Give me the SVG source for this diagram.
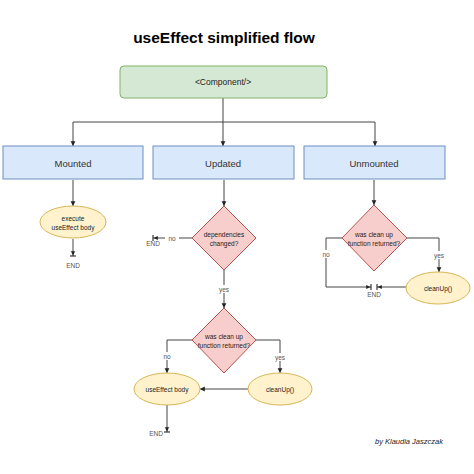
<svg xmlns="http://www.w3.org/2000/svg" width="474" height="474" viewBox="0 0 474 474">
<style>
text{font-family:"Liberation Sans",Arial,sans-serif;fill:#222;text-anchor:middle;dominant-baseline:central}
.title{font-size:15.5px;font-weight:bold;fill:#000}
.box{fill:#dae8fc;stroke:#6c8ebf;stroke-width:1}
.green{fill:#d5e8d4;stroke:#82b366;stroke-width:1}
.ell{fill:#fff2cc;stroke:#d6b656;stroke-width:1}
.dia{fill:#f8cecc;stroke:#b85450;stroke-width:1}
.lbl{font-size:9.5px;fill:#333}
.sm{font-size:6.5px;fill:#222}
.el{font-size:6.5px;fill:#555}
.line{fill:none;stroke:#444;stroke-width:1}
.arr{marker-end:url(#arrow)}
.end{marker-end:url(#endm)}
</style>
<defs>
<marker id="arrow" viewBox="0 0 10 10" refX="9" refY="5" markerWidth="6" markerHeight="6" markerUnits="userSpaceOnUse" orient="auto">
<path d="M1,1 L9,5 L1,9 Z" fill="#222"/>
</marker>
<marker id="endm" viewBox="0 0 10 10" refX="9" refY="5" markerWidth="6" markerHeight="6" markerUnits="userSpaceOnUse" orient="auto">
<path d="M1,1.5 L8,5 L1,8.5 Z" fill="#222"/>
<path d="M9,0 L9,10" stroke="#222" stroke-width="1.8"/>
</marker>
</defs>
<rect width="474" height="474" fill="#fff"/>
<text class="title" x="224" y="37">useEffect simplified flow</text>

<g id="connectors">
<path class="line" d="M223,98 V122"/>
<path class="line" d="M73,122 H375"/>
<path class="line arr" d="M73,122 V146"/>
<path class="line arr" d="M223,122 V146"/>
<path class="line arr" d="M375,122 V146"/>
<path class="line arr" d="M73,180 V206"/>
<path class="line end" d="M73,239 V256"/>
<path class="line arr" d="M224,180 V206"/>
<path class="line end" d="M192,238 H153"/>
<path class="line arr" d="M224,270 V308"/>
<path class="line arr" d="M192,340 H167 V373"/>
<path class="line arr" d="M256,340 H280 V373"/>
<path class="line arr" d="M248,389 H200"/>
<path class="line end" d="M167,405 V432"/>
<path class="line arr" d="M374,180 V205"/>
<path class="line end" d="M342,238 H326 V287 H371"/>
<path class="line arr" d="M407,238 H439 V272"/>
<path class="line end" d="M406,287 H377"/>
</g>
<g id="labels">
<text class="el" x="73" y="265">END</text>
<rect x="165" y="234" width="14" height="8" fill="#fff"/>
<text class="el" x="172" y="238">no</text>
<text class="el" x="153" y="243">END</text>
<rect x="216" y="285" width="16" height="8" fill="#fff"/>
<text class="el" x="224" y="289">yes</text>
<rect x="160" y="352" width="14" height="8" fill="#fff"/>
<text class="el" x="167" y="356">no</text>
<rect x="272" y="353" width="16" height="8" fill="#fff"/>
<text class="el" x="280" y="357">yes</text>
<text class="el" x="156" y="433">END</text>
<rect x="319" y="250" width="14" height="8" fill="#fff"/>
<text class="el" x="326" y="254">no</text>
<rect x="431" y="251" width="16" height="8" fill="#fff"/>
<text class="el" x="439" y="255">yes</text>
<text class="el" x="374" y="294">END</text>
</g>

<g id="component"><rect class="green" x="120" y="66" width="207" height="32" rx="4"/><text x="223" y="82" style="font-size:8.5px">&lt;Component/&gt;</text></g>
<g id="mounted"><rect class="box" x="3" y="146" width="140" height="33"/><text class="lbl" x="73" y="163">Mounted</text></g>
<g id="updated"><rect class="box" x="153" y="146" width="141" height="33"/><text class="lbl" x="223" y="163">Updated</text></g>
<g id="unmounted"><rect class="box" x="304" y="146" width="141" height="33"/><text class="lbl" x="374" y="163">Unmounted</text></g>

<g id="execute"><ellipse class="ell" cx="73" cy="222" rx="33" ry="16"/><text class="sm" x="73" y="218">execute</text><text class="sm" x="73" y="227">useEffect body</text></g>

<g id="deps"><path class="dia" d="M224,206 L256,238 L224,270 L192,238 Z"/><text class="sm" x="224" y="234">dependencies</text><text class="sm" x="224" y="243">changed?</text></g>
<g id="cleanq1"><path class="dia" d="M224,308 L256,340 L224,373 L192,340 Z"/><text class="sm" x="224" y="336">was clean up</text><text class="sm" x="224" y="345">function returned?</text></g>
<g id="effectbody"><ellipse class="ell" cx="167" cy="389" rx="33" ry="16"/><text class="sm" x="167" y="389">useEffect body</text></g>
<g id="cleanup1"><ellipse class="ell" cx="280" cy="389" rx="32" ry="16"/><text class="sm" x="280" y="389">cleanUp()</text></g>

<g id="cleanq2"><path class="dia" d="M374,205 L407,238 L374,271 L342,238 Z"/><text class="sm" x="374" y="234">was clean up</text><text class="sm" x="374" y="243">function returned?</text></g>
<g id="cleanup2"><ellipse class="ell" cx="438" cy="288" rx="32" ry="16"/><text class="sm" x="438" y="288">cleanUp()</text></g>

<text x="409" y="441" style="font-size:7.5px;font-style:italic;fill:#222">by Klaudia Jaszczak</text>
</svg>
